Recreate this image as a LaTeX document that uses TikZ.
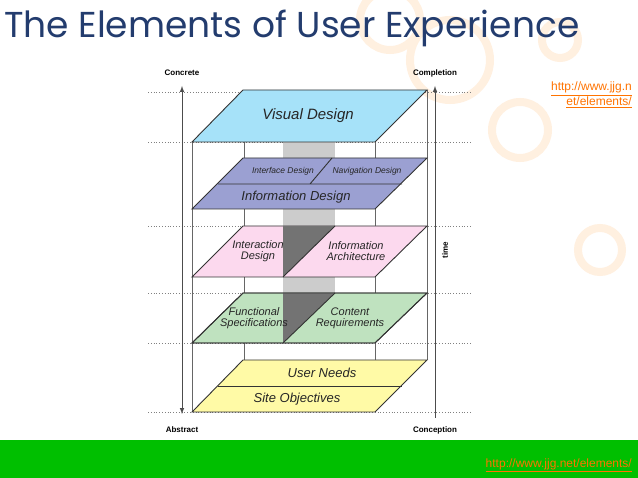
\documentclass[tikz,border=0pt]{standalone}
\usepackage{fontspec}
\setmainfont{Liberation Sans}
\newfontfamily\titlefont{Poppins}
\begin{document}
\begin{tikzpicture}[x=1pt,y=-1pt,
  lab/.style={font=\bfseries\fontsize{8}{9}\selectfont, inner sep=0pt},
  pl/.style={draw=black!80, line width=0.9pt},
  pt/.style={font=\itshape\fontsize{#1}{#1}\selectfont, inner sep=0pt, align=center, text=black!85},
  dots/.style={gray, dotted, line width=0.8pt},
  link/.style={text=orange!90!red, font=\fontsize{12}{15}\selectfont, inner sep=0pt}]
\useasboundingbox (0,0) rectangle (638,478);
\fill[white] (0,0) rectangle (638,478);
\begin{scope}[draw=orange!12, line width=8pt]
\draw (450,60) circle (40); \draw (520,130) circle (28); \draw (600,250) circle (22);
\draw (390,20) circle (30); \draw (560,40) circle (18);
\end{scope}
\fill[green!75!black] (0,440) rectangle (638,478);
\node[anchor=west, inner sep=0pt, text={rgb,255:red,35;green,60;blue,110}, font=\titlefont\fontsize{36}{38}\selectfont] (title) at (4,28) {The Elements of User Experience};
% dotted guides
\foreach \yy/\n in {92/a,142/b,226/c,293/d,343/e,412/f}
  \draw[dots] (148,\yy) coordinate (dl\n) -- (472,\yy) coordinate (dr\n);
% frame lines
\draw[black!60, line width=0.6pt] (192,142) -- (192,412) (244,142) -- (244,360) (375,142) -- (375,412) (427,90) -- (427,360);
% gray band
\fill[black!20] (283,142) rectangle (335,293);
% planes
\newcommand\plane[3]{\filldraw[pl, fill=#3] (243,#1) -- (427,#1) -- (375,#2) -- (192,#2) -- cycle;}
\plane{90}{142}{cyan!35!white}
\plane{158}{209}{{rgb,255:red,155;green,160;blue,210}}
\draw[pl] (218,184) -- (402,184) (332,158) -- (310,184);
\plane{226}{277}{magenta!15}
\fill[black!55] (283,226) -- (335,226) -- (283,277) -- cycle;
\draw[pl] (335,226) -- (283,277);
\plane{293}{343}{green!55!black!25!white}
\fill[black!55] (283,293) -- (335,293) -- (283,343) -- cycle;
\draw[pl] (335,293) -- (283,343);
\draw[pl] (243,293) -- (427,293) -- (375,343) -- (192,343) -- cycle;
\plane{360}{412}{yellow!35}
\draw[pl] (218,386) -- (402,386);
% arrows
\draw[black!70, line width=1pt, <->, >=latex] (182,414) -- (182,86);
\draw[black!70, line width=1pt, ->, >=latex] (435,418) -- (435,86);
\node[lab] (conc) at (182,73) {Concrete};
\node[lab] (comp) at (435,73) {Completion};
\node[lab] (abs) at (182,430) {Abstract};
\node[lab] (conce) at (435,430) {Conception};
\node[lab, rotate=90] (time) at (445,250) {time};
% plane texts
\node[pt=15] (vd) at (308,116) {Visual Design};
\node[pt=8.5] (id) at (283,171) {Interface Design};
\node[pt=8.5] (nd) at (367,171) {Navigation Design};
\node[pt=13] (ifd) at (296,197) {Information Design};
\node[pt=11] (ixd) at (258,251) {Interaction\\Design};
\node[pt=11] (ia) at (356,251) {Information\\Architecture};
\node[pt=11] (fs) at (254,318) {Functional\\Specifications};
\node[pt=11] (cr) at (350,318) {Content\\Requirements};
\node[pt=13] (un) at (322,373) {User Needs};
\node[pt=13] (so) at (297,399) {Site Objectives};
% links
\node[link, anchor=north east, align=right] (l1) at (632,82) {\underline{http://www.jjg.n}\\\underline{et/elements/}};
\node[link, anchor=east] (l2) at (632,465) {\underline{http://www.jjg.net/elements/}};
\end{tikzpicture}
\end{document}
